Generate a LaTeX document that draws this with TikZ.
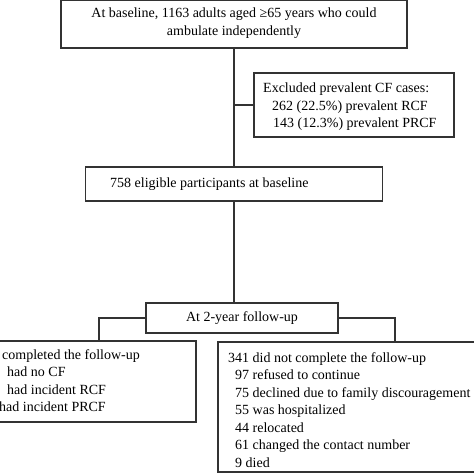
\documentclass[tikz,border=0pt]{standalone}
\usepackage{fontspec}
\setmainfont{Liberation Serif}
\usepackage{tikz}

\begin{document}
\begin{tikzpicture}[x=1pt,y=-1pt,
            box/.style={draw=black!80,line width=1.1pt,rectangle,inner sep=0pt},
            txt/.style={inner sep=0pt,font=\fontsize{14}{17.5}\selectfont},
            link/.style={draw=black!80,line width=1.1pt}]

            \clip (0,0) rectangle (474,474);

            % the boxes, cut by the edges of the page as in the figure
            \node[box,minimum width=346pt,minimum height=48pt] (base) at (234,24) {};
            \node[box,minimum width=200pt,minimum height=64pt] (excl) at (354,105) {};
            \node[box,minimum width=297pt,minimum height=34pt] (elig) at (234,184) {};
            \node[box,minimum width=192pt,minimum height=30pt] (fu)   at (242,318) {};
            \node[box,minimum width=276pt,minimum height=81pt] (done) at (58,381.5) {};
            \node[box,minimum width=354pt,minimum height=130pt] (lost) at (395,407) {};
            \coordinate (dtop) at (99,341);

            % texts
            \node[txt,align=center] (tbase) at (234,23)
            {At baseline, 1163 adults aged ≥65 years who could\\ambulate independently};
            \node[txt,align=left,anchor=west] (texcl) at (263,107)
            {Excluded prevalent CF cases:\\\hspace*{9pt}262 (22.5\%) prevalent RCF\\\hspace*{10pt}143 (12.3\%) prevalent PRCF};
            \node[txt,anchor=west] (telig) at (110,184) {758 eligible participants at baseline};
            \node[txt] (tfu) at (242,318) {At 2-year follow-up};
            \node[txt,align=left,anchor=north west] (tdone) at (2,349)
            {completed the follow-up\\\hspace*{5pt}had no CF\\\hspace*{5pt}had incident RCF\\\hspace*{-3pt}had incident PRCF};
            \node[txt,align=left,anchor=north west] (tlost) at (228,352)
            {341 did not complete the follow-up\\\hspace*{7pt}97 refused to continue\\\hspace*{7pt}75 declined due to family discouragement\\\hspace*{7pt}55 was hospitalized\\\hspace*{7pt}44 relocated\\\hspace*{7pt}61 changed the contact number\\\hspace*{7pt}9 died};

            % connectors
            \draw[link] (base.south) -- (elig.north);
            \draw[link] (excl.west -| base.south) -- (excl.west);
            \draw[link] (elig.south) -- (elig.south |- fu.north);
            \draw[link] (fu.west) -| (dtop);
            \draw[link] (fu.east) -| (lost.north);
        \end{tikzpicture}
\end{document}
